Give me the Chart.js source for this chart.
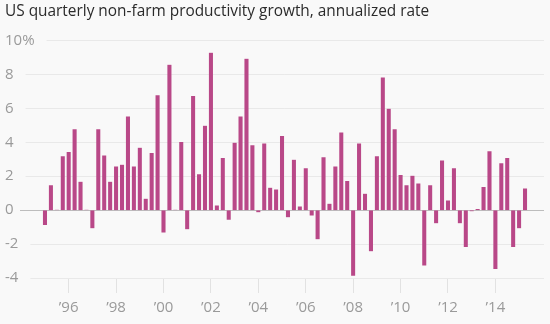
<!DOCTYPE html>
<html>
<head>
<meta charset="utf-8">
<script src="https://cdn.jsdelivr.net/npm/chart.js@4"></script>
<style>
    body { margin: 0; background: #f9f9f9; }
    #wrap { width: 550px; height: 324px; }
</style>
</head>
<body>
<div id="wrap"><canvas id="chart" width="550" height="324"></canvas></div>

<script>
    // quarters, 1995 Q1 .. 2015 Q2
    const years = [1995, 1996, 1997, 1998, 1999, 2000, 2001, 2002, 2003, 2004,
        2005, 2006, 2007, 2008, 2009, 2010, 2011, 2012, 2013, 2014, 2015]
    const quarters = ['Q1', 'Q2', 'Q3', 'Q4']
    const categories = years.flatMap(y => quarters.map(q => y + ' ' + q)).slice(0, 82)

    // annualized productivity growth, %
    const growth = [
        -0.9, 1.5, 0.05, 3.2,
        3.45, 4.8, 1.7, 0.05,
        -1.1, 4.8, 3.25, 1.7,
        2.6, 2.7, 5.55, 2.6,
        3.7, 0.7, 3.4, 6.8,
        -1.35, 8.6, 0.05, 4.05,
        -1.15, 6.75, 2.15, 5.0,
        9.3, 0.3, 3.1, -0.6,
        4.0, 5.55, 8.95, 3.85,
        -0.15, 3.95, 1.35, 1.25,
        4.4, -0.45, 3.0, 0.25,
        2.5, -0.35, -1.75, 3.15,
        0.4, 2.6, 4.6, 1.75,
        -3.9, 3.95, 1.0, -2.45,
        3.2, 7.85, 6.0, 4.8,
        2.1, 1.5, 2.05, 1.6,
        -3.3, 1.5, -0.8, 2.95,
        0.6, 2.5, -0.8, -2.2,
        -0.1, 0.1, 1.4, 3.5,
        -3.5, 2.8, 3.1, -2.2,
        -1.1, 1.3
    ]

    // x tick labels, shown at Q1 of every other year
    const xTickAt = ['1996 Q1', '1998 Q1', '2000 Q1', '2002 Q1', '2004 Q1',
        '2006 Q1', '2008 Q1', '2010 Q1', '2012 Q1', '2014 Q1']
    const xTickLabels = ['\u201996', '\u201998', '\u201900', '\u201902', '\u201904',
        '\u201906', '\u201908', '\u201910', '\u201912', '\u201914']

    const yTicks = [-4, -2, 0, 2, 4, 6, 8, 10]

    const labelFont = { family: "'Open Sans', sans-serif", size: 15 }

    // horizontal grid lines that start after each label and run past the bars
    const gridPlugin = {
        id: 'grid',
        beforeDatasetsDraw(chart) {
            const y = chart.scales.y
            const ctx = chart.ctx
            ctx.save()
            ctx.font = '15px "Open Sans", sans-serif'
            y.ticks.forEach(t => {
                const py = Math.round(y.getPixelForValue(t.value)) + 0.5
                const w = ctx.measureText(t.label).width
                const x0 = t.value === 0 ? 20 : Math.max(25, y.left + w + 12)
                ctx.strokeStyle = t.value === 0 ? '#bdbdbd' : '#e9e9e9'
                ctx.lineWidth = 1
                ctx.beginPath()
                ctx.moveTo(x0, py)
                ctx.lineTo(544, py)
                ctx.stroke()
            })
            ctx.restore()
        }
    }

    new Chart(document.getElementById('chart'), {
        type: 'bar',
        data: {
            labels: categories,
            datasets: [{
                data: growth,
                backgroundColor: '#b94888',
                borderColor: 'rgba(255,255,255,0.2)',
                borderWidth: 0.5,
                barPercentage: 0.86,
                categoryPercentage: 1.0
            }]
        },
        options: {
            responsive: false,
            animation: false,
            events: [],
            layout: { padding: { left: 5, right: 22, top: 0, bottom: 1 } },
            plugins: {
                legend: { display: false },
                tooltip: { enabled: false },
                title: {
                    display: true,
                    text: 'US quarterly non-farm productivity growth, annualized rate',
                    align: 'start',
                    color: '#2b2b2b',
                    font: { family: "'Open Sans', sans-serif", size: 15.4, weight: 'normal' },
                    padding: { top: 2, bottom: 20 }
                }
            },
            scales: {
                x: {
                    offset: true,
                    grid: {
                        offset: false,
                        drawOnChartArea: false,
                        drawTicks: true,
                        tickLength: 15,
                        color: ctx => xTickAt.includes(categories[ctx.index]) ? '#e2e2e2' : 'rgba(0,0,0,0)'
                    },
                    border: { display: false },
                    ticks: {
                        autoSkip: false,
                        maxRotation: 0,
                        padding: 6,
                        color: '#9a9a9a',
                        font: labelFont,
                        callback: function (v) {
                            const i = xTickAt.indexOf(this.getLabelForValue(v))
                            return i >= 0 ? xTickLabels[i] : ''
                        }
                    }
                },
                y: {
                    min: -4,
                    max: 10,
                    afterBuildTicks: s => { s.ticks = yTicks.map(v => ({ value: v })) },
                    afterFit: s => { s.width = 37 },
                    grid: { display: false },
                    border: { display: false },
                    ticks: {
                        crossAlign: 'far',
                        color: '#9a9a9a',
                        font: labelFont,
                        callback: v => v === 10 ? '10%' : String(v)
                    }
                }
            }
        },
        plugins: [gridPlugin]
    })
</script>
</body>
</html>
